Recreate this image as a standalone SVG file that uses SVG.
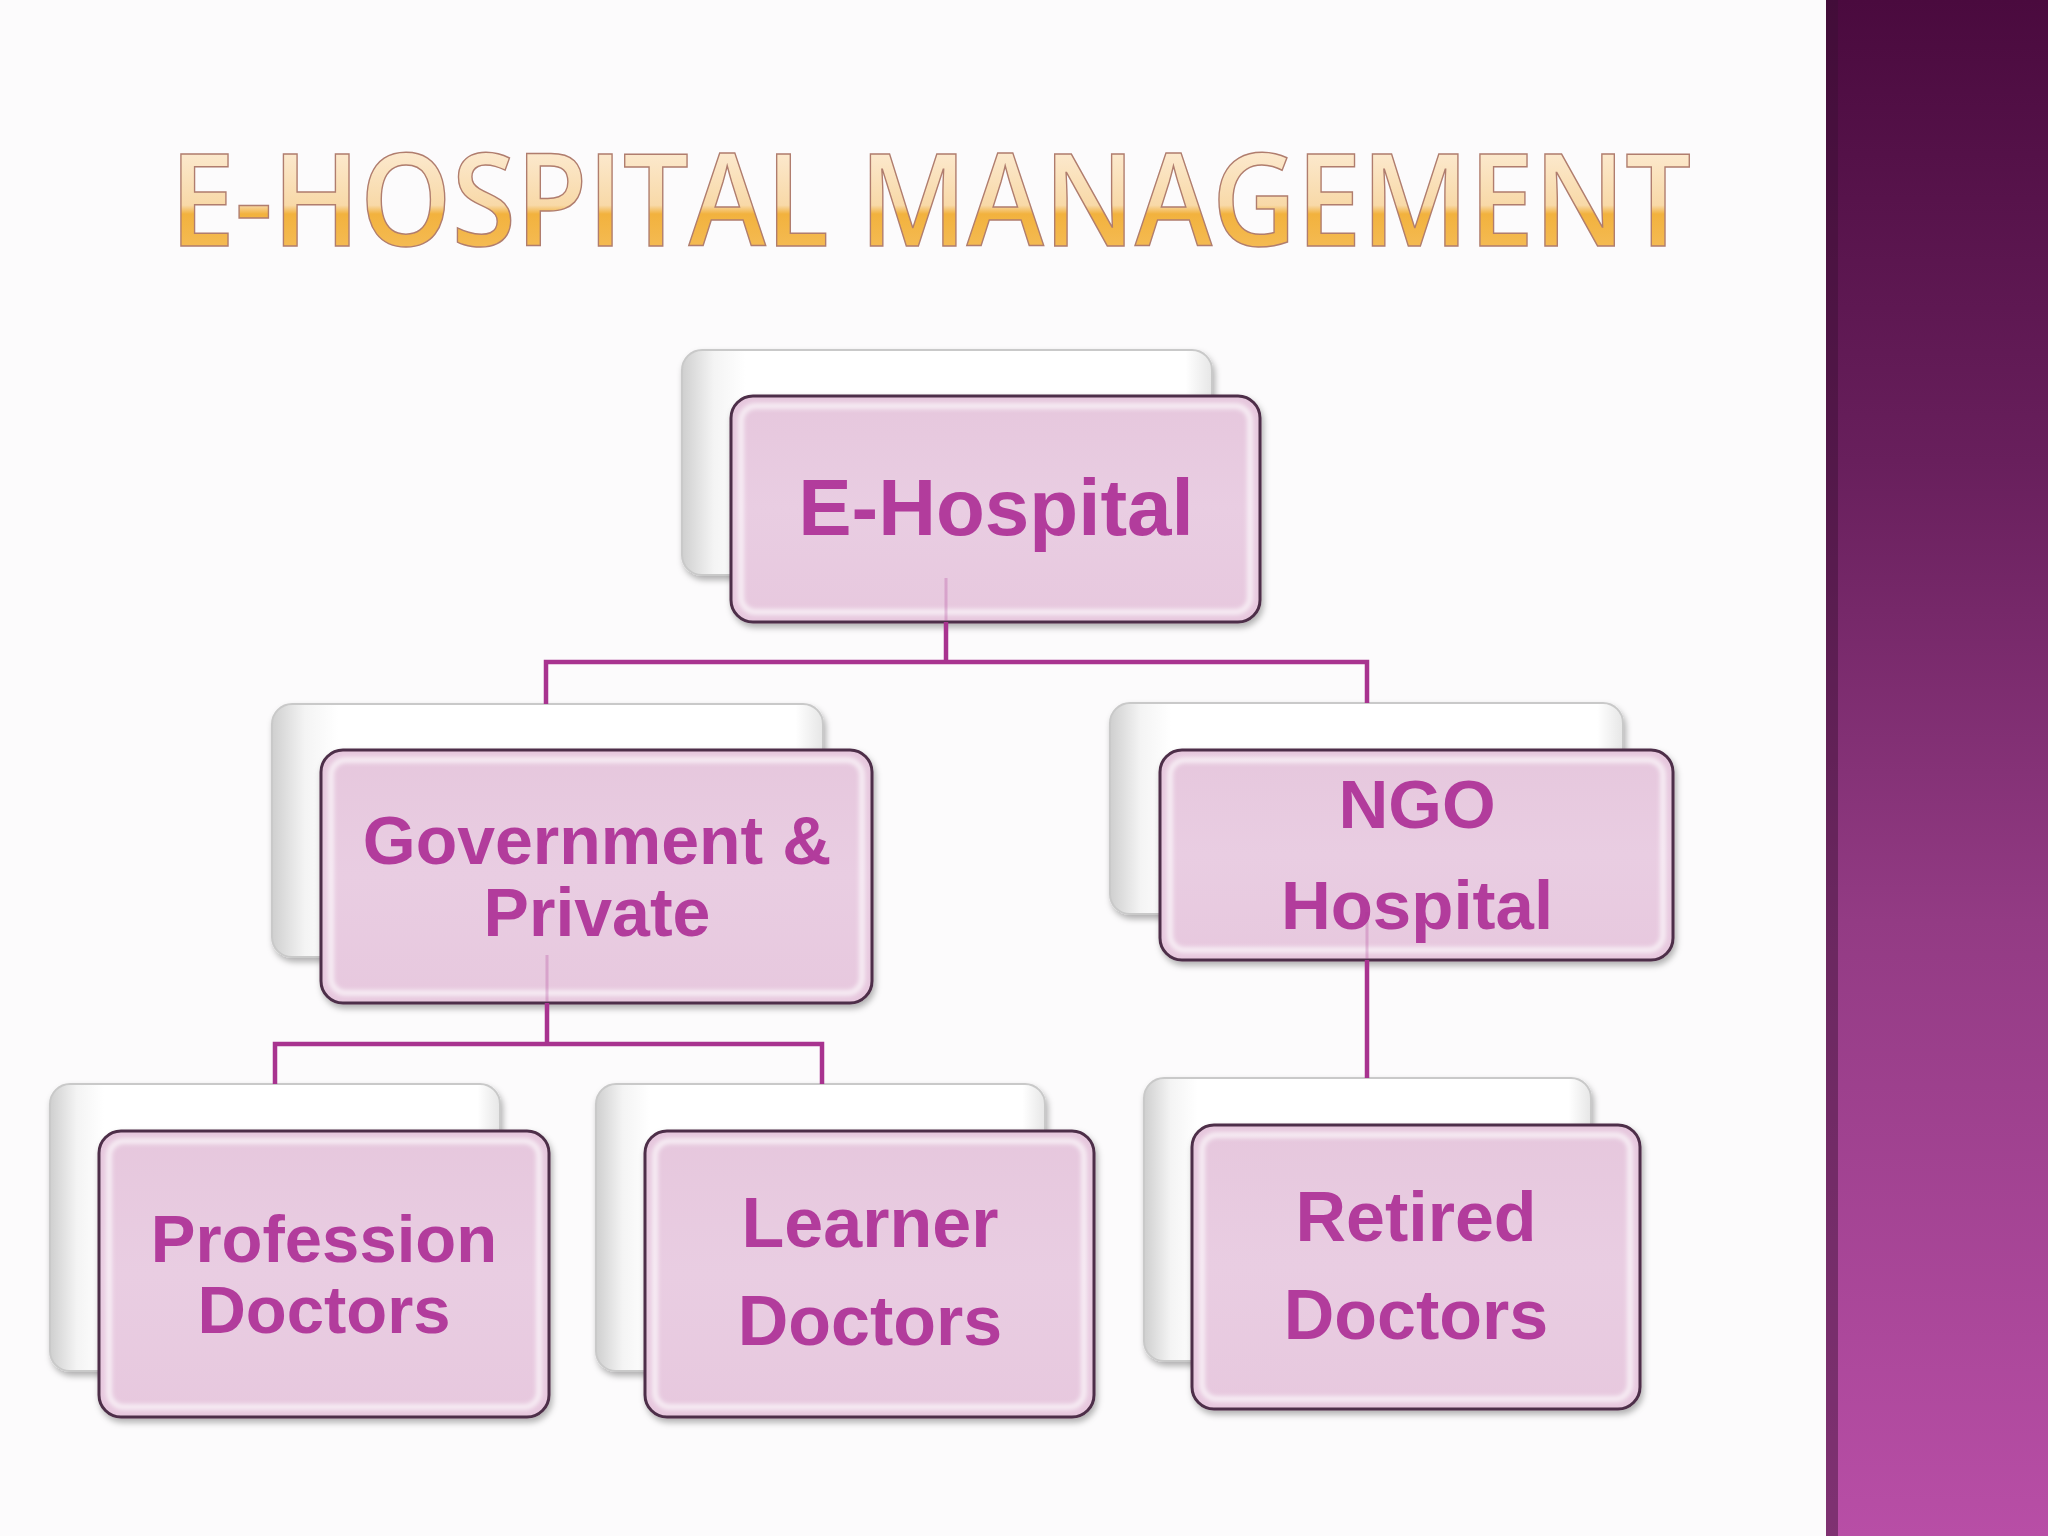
<svg xmlns="http://www.w3.org/2000/svg" width="2048" height="1536" viewBox="0 0 2048 1536">
<defs>
  <linearGradient id="barGrad" x1="0" y1="0" x2="0" y2="1">
    <stop offset="0" stop-color="#4a0a3e"/>
    <stop offset="0.3" stop-color="#681f5c"/>
    <stop offset="0.6" stop-color="#933b84"/>
    <stop offset="1" stop-color="#b84ea6"/>
  </linearGradient>
  <linearGradient id="titleGrad" x1="0" y1="0" x2="0" y2="1">
    <stop offset="0" stop-color="#fff6ec"/>
    <stop offset="0.55" stop-color="#f8d9a8"/>
    <stop offset="0.6" stop-color="#f2b23e"/>
    <stop offset="1" stop-color="#f7c46a"/>
  </linearGradient>
  <linearGradient id="backGrad" x1="0" y1="0" x2="1" y2="0">
    <stop offset="0" stop-color="#cfcfcf"/>
    <stop offset="0.06" stop-color="#f4f4f4"/>
    <stop offset="0.12" stop-color="#ffffff"/>
    <stop offset="0.95" stop-color="#ffffff"/>
    <stop offset="1" stop-color="#e6e6e6"/>
  </linearGradient>
  <linearGradient id="frontGrad" x1="0" y1="0" x2="0" y2="1">
    <stop offset="0" stop-color="#e6c7dd"/>
    <stop offset="0.5" stop-color="#e9cde2"/>
    <stop offset="1" stop-color="#e7c8de"/>
  </linearGradient>
  <filter id="shadow" x="-10%" y="-10%" width="120%" height="130%">
    <feDropShadow dx="2" dy="4" stdDeviation="3" flood-color="#000" flood-opacity="0.3"/>
  </filter>
  <filter id="soft" x="-5%" y="-5%" width="110%" height="110%">
    <feGaussianBlur stdDeviation="2"/>
  </filter>
</defs>
<style>
  .back { fill: url(#backGrad); stroke: #c9c9c9; stroke-width: 2; filter: url(#shadow); }
  .front { fill: url(#frontGrad); stroke: #4e2f48; stroke-width: 3; filter: url(#shadow); }
  .gloss { fill: none; stroke: #ffffff; stroke-opacity: 0.65; stroke-width: 6; filter: url(#soft); }
  .label { font-family: "Liberation Sans", Arial, sans-serif; font-weight: bold; fill: #b23c9c; text-anchor: middle; }
  .conn { fill: none; stroke: #a8338f; stroke-width: 4.5; }
  .connFaint { fill: none; stroke: #a8338f; stroke-width: 3; stroke-opacity: 0.25; }
  .title { font-family: "Open Sans", "Liberation Sans", sans-serif; font-weight: 600; font-size: 128px; fill: url(#titleGrad); stroke: #b07d6e; stroke-width: 1.5; }
</style>

<rect x="0" y="0" width="2048" height="1536" fill="#fcfbfc"/>

<g id="sidebar">
  <rect x="1826" y="0" width="222" height="1536" fill="url(#barGrad)"/>
  <rect x="1826" y="0" width="12" height="1536" fill="#3a1034" opacity="0.45"/>
</g>

<g id="title">
  <text class="title" x="170" y="246" textLength="1521" lengthAdjust="spacingAndGlyphs">E-HOSPITAL MANAGEMENT</text>
</g>

<g id="node-ehospital">
  <rect class="back" x="682" y="350" width="530" height="225" rx="20"/>
  <rect class="front" x="731" y="396" width="529" height="226" rx="22"/>
  <rect class="gloss" x="741" y="406" width="509" height="206" rx="15"/>
  <text class="label" x="996" y="535" font-size="80">E-Hospital</text>
</g>

<g id="node-govt">
  <rect class="back" x="272" y="704" width="551" height="253" rx="20"/>
  <rect class="front" x="321" y="750" width="551" height="253" rx="22"/>
  <rect class="gloss" x="331" y="760" width="531" height="233" rx="15"/>
  <text class="label" x="597" y="864" font-size="68">Government &amp;</text>
  <text class="label" x="597" y="936" font-size="68">Private</text>
</g>

<g id="node-ngo">
  <rect class="back" x="1110" y="703" width="513" height="211" rx="20"/>
  <rect class="front" x="1160" y="750" width="513" height="210" rx="22"/>
  <rect class="gloss" x="1170" y="760" width="493" height="190" rx="15"/>
  <text class="label" x="1417" y="828" font-size="69">NGO</text>
  <text class="label" x="1417" y="929" font-size="69">Hospital</text>
</g>

<g id="node-profession">
  <rect class="back" x="50" y="1084" width="450" height="287" rx="20"/>
  <rect class="front" x="99" y="1131" width="450" height="286" rx="22"/>
  <rect class="gloss" x="109" y="1141" width="430" height="266" rx="15"/>
  <text class="label" x="324" y="1262" font-size="67">Profession</text>
  <text class="label" x="324" y="1333" font-size="67">Doctors</text>
</g>

<g id="node-learner">
  <rect class="back" x="596" y="1084" width="449" height="287" rx="20"/>
  <rect class="front" x="645" y="1131" width="449" height="286" rx="22"/>
  <rect class="gloss" x="655" y="1141" width="429" height="266" rx="15"/>
  <text class="label" x="870" y="1247" font-size="70">Learner</text>
  <text class="label" x="870" y="1345" font-size="70">Doctors</text>
</g>

<g id="node-retired">
  <rect class="back" x="1144" y="1078" width="447" height="283" rx="20"/>
  <rect class="front" x="1192" y="1125" width="448" height="284" rx="22"/>
  <rect class="gloss" x="1202" y="1135" width="428" height="264" rx="15"/>
  <text class="label" x="1416" y="1241" font-size="70">Retired</text>
  <text class="label" x="1416" y="1339" font-size="70">Doctors</text>
</g>

<g id="connectors">
  <path class="conn" d="M946 622 V662 M546 704 V662 H1367 V703"/>
  <path class="conn" d="M547 1003 V1044 M275 1084 V1044 H822 V1084"/>
  <path class="conn" d="M1367 960 V1078"/>
  <path class="connFaint" d="M946 578 V621 M547 955 V1002 M1367 912 V959"/>
</g>
</svg>
